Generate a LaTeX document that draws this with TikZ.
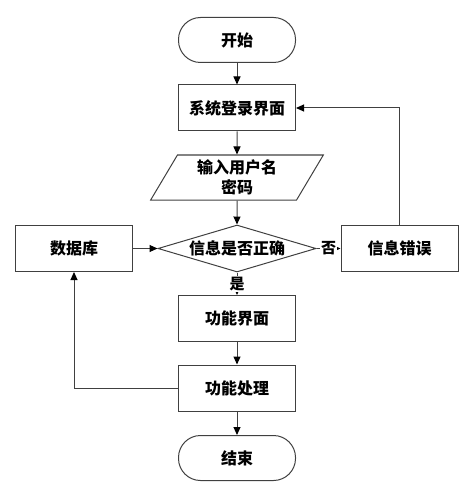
\documentclass[tikz,border=0pt]{standalone}
\usepackage{fontspec}
\setmainfont{Noto Sans CJK SC}
\usetikzlibrary{arrows.meta,shapes.geometric}
\tikzset{
  base/.style={draw=black!75, line width=1pt, font=\fontsize{16}{20}\selectfont\bfseries, align=center, inner sep=0pt},
  term/.style={base, minimum width=117pt, minimum height=45pt, rounded corners=22pt},
  proc/.style={base, minimum width=117pt, minimum height=46pt},
  io/.style={base, trapezium, trapezium left angle=63, trapezium right angle=117, trapezium stretches=true, minimum width=173pt, minimum height=45pt},
  dec/.style={base, diamond, aspect=3.36, minimum width=158pt, minimum height=47pt},
  conn/.style={draw=black!75, line width=1pt, -{Triangle[length=8pt,width=7pt,fill=black,color=black]}},
  lab/.style={font=\fontsize{15}{18}\selectfont\bfseries, fill=white, inner sep=1pt}
}
\begin{document}
\begin{tikzpicture}[x=1pt,y=-1pt]
\useasboundingbox (0,0) rectangle (474,497);
\node[term] (start) at (237,40) {开始};
\node[proc] (login) at (237,108) {系统登录界面};
\node[io] (input) at (237,177.5) {输入用户名\\密码};
\node[dec] (check) at (237,248.5) {信息是否正确};
\node[proc] (db) at (74,248.5) {数据库};
\node[proc] (err) at (399.5,248.5) {信息错误};
\node[proc] (func) at (237,318.5) {功能界面};
\node[proc] (work) at (237,388) {功能处理};
\node[term] (end) at (237,458) {结束};
\draw[conn] (start) -- (login);
\draw[conn] (login) -- (input);
\draw[conn] (input) -- (check);
\draw[conn] (db.east) -- (check.west);
\draw[conn] (check.east) -- node[lab] {否} (err.west);
\draw[conn] (err.north) |- (login.east);
\draw[conn] (check.south) -- node[lab] {是} (func.north);
\draw[conn] (func) -- (work);
\draw[conn] (work.west) -| (db.south);
\draw[conn] (work) -- (end);
\end{tikzpicture}
\end{document}
